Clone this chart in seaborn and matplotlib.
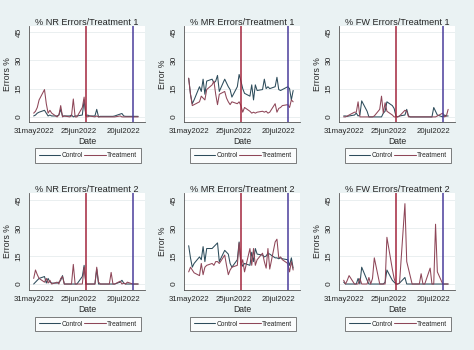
import numpy as np
import pandas as pd
import matplotlib
matplotlib.use("Agg")
import matplotlib.pyplot as plt
import seaborn as sns

# ---------------- data ----------------
dates = pd.bdate_range("2022-05-31", "2022-07-28")
red_line = pd.Timestamp("2022-06-29")
blue_line = pd.Timestamp("2022-07-25")
tick_dates = ["2022-05-31", "2022-06-25", "2022-07-20"]
tick_labels = ["31may2022", "25jun2022", "20jul2022"]

nr1_control = [0.5, 1, 2, 2.5, 3.5, 2, 0.5, 1, 0.5, 0.5, 1, 4, 0.5, 0.5, 0.5, 1, 0, 0.5, 0.5,
               1, 9, 0.5, 1, 0.5, 0.5, 4, 0, 0.3, 0.3, 0.3, 0.3, 0.3, 0.3, 0.5, 1.5, 1.8,
               0.5, 0.3, 0.3, 0.3, 0.3, 0.3, 0.3]
nr1_treat = [2, 3, 5, 9, 14.5, 7, 2, 3.5, 2, 0, 1, 6, 0, 0.5, 0, 0.5, 9.5, 0, 0,
             5, 10.5, 0.5, 0, 0.5, 0, 0.5, 0, 0, 0, 0, 0, 0, 0, 0, 0.5, 0,
             0, 0, 0, 0, 0, 0, 0]

mr1_control = [20.5, 12, 7, 9, 16, 13.5, 20, 12, 19, 20, 18, 19, 22, 13.5, 20, 18, 16, 14.5, 10.5,
               16, 22.5, 19, 15, 12.5, 11, 17, 9, 17, 14, 14.5, 20, 15, 16, 15, 16, 21,
               14.5, 14, 14.5, 16, 15, 9, 14]
mr1_treat = [20.5, 12, 6, 6.5, 8, 11, 10, 9, 14.5, 17, 19, 12, 6.5, 12, 13.5, 10, 8, 6.5, 8,
             7, 8, 6, 2.5, 5, 3, 2, 2.5, 2, 2.5, 3, 2.5, 3, 2, 2.5, 7, 2.5,
             4.5, 5, 6, 6.5, 5, 9, 8]

fw1_control = [0.5, 0.5, 0.3, 0.5, 1, 2, 0.5, 1, 8.5, 3, 0, 0, 0, 0, 0, 0, 2, 3, 8,
               6, 4.5, 0.5, 0, 0.5, 1, 4, 0.5, 0, 0, 0, 0, 0, 0, 0, 0, 0,
               5, 3, 1, 0, 1, 0.5, 0.5]
fw1_treat = [0, 0, 0.5, 1, 2.5, 2.5, 8, 0, 0, 0, 0, 0, 0, 0.5, 4, 11, 2, 7.5, 3,
             1, 0, 0, 0, 0.5, 3.5, 3, 0, 0, 0, 0, 0, 0, 0, 0, 0, 0,
             0, 0, 0.5, 2, 0, 0.5, 4]

nr2_control = [0, 1, 2, 3, 4, 0.5, 3, 1, 0.5, 0.5, 1, 2, 4.5, 0, 0, 0, 0, 0, 0,
               4, 10, 0, 0, 0, 0, 8, 0, 0, 0, 0, 0, 0, 0, 0, 1, 2,
               0.5, 0, 0, 0, 0, 0, 0]
nr2_treat = [3, 7.5, 5, 3, 1, 3, 0.5, 2, 0, 1, 0, 3, 4, 0, 0, 0, 10.5, 0, 0,
             0, 9, 0, 0, 0, 0, 9, 1, 0, 0, 0, 0, 6.2, 0, 0, 1.5, 0,
             0.5, 0, 1, 0, 0, 0, 0]

mr2_control = [20.5, 14, 9, 11, 14.5, 13, 20, 12, 19, 19, 20, 21, 22, 12, 18, 17, 16, 11, 9,
               13, 22.5, 12, 9.5, 11, 10, 17, 12, 19, 16, 15.5, 14.5, 15, 16.5, 16, 14, 14,
               13.5, 14, 13.5, 13, 10, 14, 8.5]
mr2_treat = [6.5, 9, 7.5, 6, 4.5, 11, 5, 9, 10, 11, 10, 12, 12, 11, 15.5, 10, 5, 7.5, 9,
             10, 22, 10, 13, 6.5, 19, 10, 19, 10, 13, 16.5, 12, 8.5, 19, 8, 22.5, 24,
             14, 14.5, 13, 11, 6.5, 12, 7.5]

fw2_control = [1, 0, 0, 0, 0, 0, 3, 0, 9, 2, 0, 0, 0, 0, 0, 0, 0, 1, 7.5,
               2, 1, 0, 0, 0.5, 3.5, 0, 0, 0, 0, 0, 0, 0, 0, 0, 0, 0,
               0, 0, 0, 0, 0, 0, 0]
fw2_treat = [2, 0, 2, 4.5, 0, 0, 0, 3, 0, 0, 3.5, 0, 3, 14, 0, 0, 0, 0, 25,
             8, 3, 0, 0, 0.5, 43, 12, 8, 4, 0, 0, 0, 5.5, 0, 0, 8.5, 0,
             0, 32, 6.5, 0, 0, 0, 0]

titles = ["% NR Errors/Treatment 1", "% MR Errors/Treatment 1", "% FW Errors/Treatment 1",
          "% NR Errors/Treatment 2", "% MR Errors/Treatment 2", "% FW Errors/Treatment 2"]
ylabels = ["Errors %", "Error %", "Errors %", "Errors %", "Error %", "Errors %"]
series = [(nr1_control, nr1_treat), (mr1_control, mr1_treat), (fw1_control, fw1_treat),
          (nr2_control, nr2_treat), (mr2_control, mr2_treat), (fw2_control, fw2_treat)]

# ---------------- style ----------------
sns.set_style("white")
plt.rcParams["font.family"] = ["Liberation Sans", "DejaVu Sans"]
bg = "#eaf2f3"
palette = {"Control": "#2d4c5b", "Treatment": "#8e4658"}

fig = plt.figure(figsize=(4.74, 3.5), dpi=100, facecolor=bg)

lefts = [29, 184, 339]
rows = [(26, 122), (193, 290)]
W, H = 474, 350
x0 = pd.Timestamp("2022-05-31")

for i, (title, ylab, (ctrl, trt)) in enumerate(zip(titles, ylabels, series)):
    r, c = divmod(i, 3)
    top, bot = rows[r]
    ax = fig.add_axes([lefts[c] / W, 1 - bot / H, 116 / W, (bot - top) / H])
    ax.set_facecolor("white")

    df = pd.DataFrame({
        "Date": list(dates) * 2,
        "val": list(ctrl) + list(trt),
        "group": ["Control"] * len(dates) + ["Treatment"] * len(dates),
    })
    sns.lineplot(data=df, x="Date", y="val", hue="group", palette=palette,
                 linewidth=0.75, ax=ax)

    ax.axvline(red_line, color="#a3263d", lw=1.1)
    ax.axvline(blue_line, color="#4a3d9b", lw=1.1)

    ax.set_xlim(x0 - pd.Timedelta(days=2.6), x0 + pd.Timedelta(days=61.8))
    if r == 0:
        ax.set_ylim(-2.7, 48.2)
    else:
        ax.set_ylim(-3.2, 48.7)
    ax.set_yticks([0, 15, 30, 45])
    ax.set_yticklabels(["0", "15", "30", "45"], rotation=90, va="center")
    ax.set_xticks(pd.to_datetime(tick_dates))
    ax.set_xticklabels(tick_labels)
    ax.grid(axis="y", color="#e6ecee", lw=0.6)
    ax.tick_params(labelsize=6, length=3, width=0.6, color="#555555", pad=1.5)
    ax.tick_params(axis="x", labelsize=5.6)

    for s in ["top", "right"]:
        ax.spines[s].set_visible(False)
    for s in ["left", "bottom"]:
        ax.spines[s].set_color("#555555")
        ax.spines[s].set_linewidth(0.6)

    ax.set_title(title, fontsize=6.6, pad=0.8)
    ax.set_ylabel(ylab, fontsize=6.2, labelpad=3)
    ax.set_xlabel("Date", fontsize=6.2, labelpad=1.5)

    handles, labels = ax.get_legend_handles_labels()
    leg = ax.legend(handles, labels, ncol=2, mode="expand",
                    bbox_to_anchor=(0.026, -0.46, 0.966, 0.17), loc="lower left",
                    fontsize=4.8, frameon=True, fancybox=False, handlelength=3.2,
                    handletextpad=0.2, borderpad=0.55, columnspacing=1.0)
    leg.get_frame().set_edgecolor("#444444")
    leg.get_frame().set_linewidth(0.6)
    leg.get_frame().set_facecolor("white")

fig.savefig("out.png", dpi=100, facecolor=bg)
